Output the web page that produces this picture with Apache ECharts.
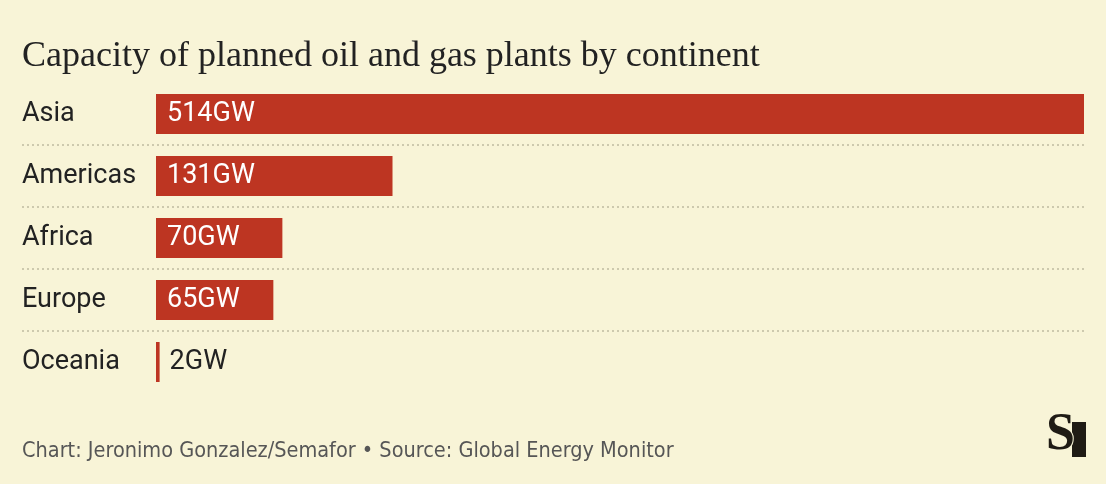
<!DOCTYPE html>
<html>
<head>
<meta charset="utf-8">
<script src="https://cdn.jsdelivr.net/npm/echarts@6/dist/echarts.min.js"></script>
<style>
html,body{margin:0;padding:0;background:#f8f4d7;}
#c{width:1106px;height:484px;}
</style>
</head>
<body>
<div id="c"></div>
<script>
var categories = ['Asia', 'Americas', 'Africa', 'Europe', 'Oceania'];
var capacityGW = [514, 131, 70, 65, 2];
var unit = 'GW';

var BG = '#f8f4d7';
var RED = '#bd3522';
var INK = '#222222';
var LABEL_FONT = 'Roboto, "Noto Sans", sans-serif';

var barData = capacityGW.map(function (v) {
  var small = v < 20;
  return {
    value: v,
    label: small ? { position: 'right', distance: 10, color: INK } : { position: 'insideLeft', distance: 11, color: '#ffffff' }
  };
});

var chart = echarts.init(document.getElementById('c'), null, { renderer: 'canvas' });
chart.setOption({
  backgroundColor: BG,
  animation: false,
  title: {
    text: 'Capacity of planned oil and gas plants by continent',
    left: 17, top: 34,
    textStyle: { fontFamily: '"Liberation Serif", "DejaVu Serif", serif', fontWeight: 'normal', fontSize: 36, color: INK }
  },
  grid: [
    { left: 156, right: 22, top: 83, bottom: 91 },
    { left: 22, right: 22, top: 145, bottom: 153 }
  ],
  xAxis: [
    { gridIndex: 0, type: 'value', min: 0, max: Math.max.apply(null, capacityGW), show: false },
    { gridIndex: 1, type: 'value', min: 0, max: 1, show: false }
  ],
  yAxis: [
    {
      gridIndex: 0, type: 'category', data: categories, inverse: true,
      axisLine: { show: false }, axisTick: { show: false }, splitLine: { show: false },
      axisLabel: { margin: 134, align: 'left', color: INK, fontFamily: LABEL_FONT, fontSize: 27, padding: [5, 0, 0, 0] }
    },
    {
      gridIndex: 1, type: 'category', data: categories.slice(1), inverse: true, boundaryGap: false,
      axisLine: { show: false }, axisTick: { show: false }, axisLabel: { show: false },
      splitLine: { show: true, interval: 0, lineStyle: { color: '#cdc9ae', width: 2, type: [2, 3] } }
    }
  ],
  series: [{
    type: 'bar',
    xAxisIndex: 0, yAxisIndex: 0,
    data: barData,
    barWidth: 40,
    itemStyle: { color: RED },
    label: {
      show: true,
      fontFamily: LABEL_FONT, fontSize: 27, padding: [5, 0, 0, 0],
      formatter: function (p) { return p.value + unit; }
    }
  }],
  graphic: [
    {
      type: 'text', left: 22, top: 440,
      style: { text: 'Chart: Jeronimo Gonzalez/Semafor \u2022 Source: Global Energy Monitor', font: '21.5px "Liberation Sans Narrow", "DejaVu Sans Condensed", sans-serif', fill: '#565656' }
    },
    { type: 'rect', shape: { x: 1072, y: 422, width: 14, height: 35 }, style: { fill: '#1f1b14' } },
    {
      type: 'text', x: 1046, y: 410,
      style: { text: 'S', font: 'bold 52px "Liberation Serif", serif', fill: '#1f1b14', stroke: BG, lineWidth: 2 }
    }
  ]
});
</script>
</body>
</html>
